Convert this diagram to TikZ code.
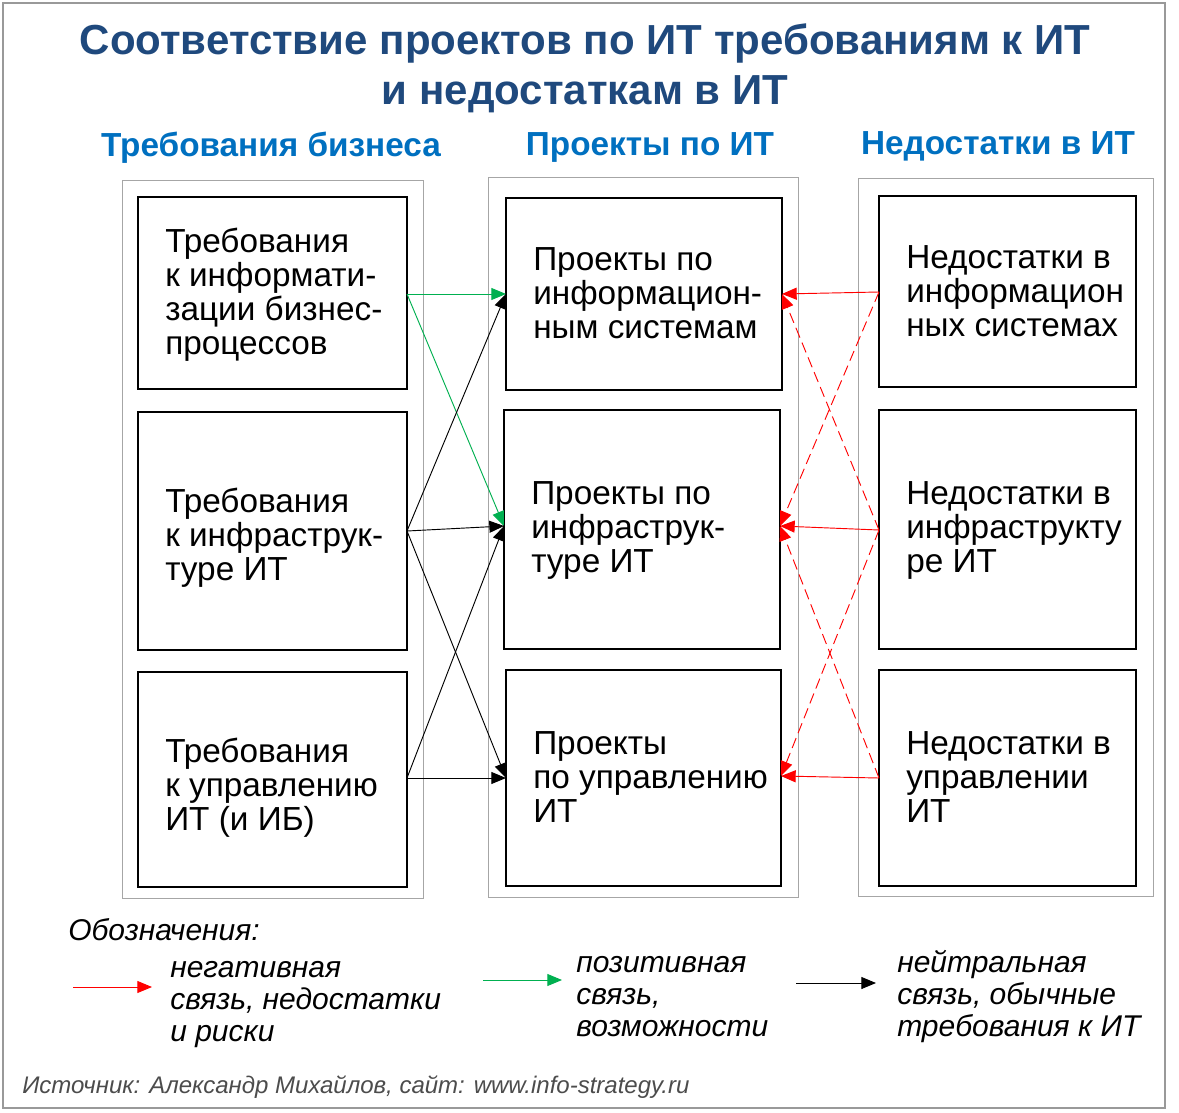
\documentclass[tikz,border=0pt]{standalone}
\usepackage{fontspec}
\setmainfont{Liberation Sans}
\usetikzlibrary{arrows.meta}
\definecolor{ttl}{RGB}{31,73,125}
\definecolor{hdr}{RGB}{0,112,192}
\definecolor{grn}{RGB}{0,176,80}
\begin{document}
\begin{tikzpicture}[x=0.75pt,y=-0.75pt,
 panel/.style={draw=gray!70,line width=0.5pt},
 box/.style={draw=black,line width=1.6pt},
 btxt/.style={anchor=base west,align=left,font=\fontsize{25}{25.5}\selectfont,inner sep=0pt},
 hd/.style={text=hdr,font=\fontsize{25}{28}\selectfont\bfseries},
 arr/.style={-{Triangle[length=11pt,width=9pt]},line width=0.7pt},
 ng/.style={arr,red},
 ngd/.style={arr,red,dashed,dash pattern=on 8pt off 4pt},
 ps/.style={arr,grn},
 nt/.style={arr,black},
 lg/.style={anchor=base west,align=left,font=\fontsize{22.5}{24}\selectfont\itshape,inner sep=0pt}]
\fill[white] (0,0) rectangle (1179,1113);
\draw[gray!80,line width=1.2pt] (3,3) rectangle (1165,1108);
\node[text=ttl,font=\fontsize{31.5}{37.5}\selectfont\bfseries,align=center] (title) at (585,68) {Соответствие проектов по ИТ требованиям к ИТ\\и недостаткам в ИТ};
\node[hd] (h1) at (271,148) {Требования бизнеса};
\node[hd] (h2) at (650,147) {Проекты по ИТ};
\node[hd] (h3) at (998,146) {Недостатки в ИТ};
\draw[panel] (122,180) rectangle (423,898);
\draw[panel] (488,177) rectangle (798,897);
\draw[panel] (858,178) rectangle (1153,896);
% boxes
\draw[box] (138,197) rectangle (407,389);
\draw[box] (138,412) rectangle (407,650);
\draw[box] (138,672) rectangle (407,887);
\draw[box] (506,198) rectangle (782,390);
\draw[box] (504,410) rectangle (780,649);
\draw[box] (506,670) rectangle (781,886);
\draw[box] (879,196) rectangle (1136,387);
\draw[box] (879,410) rectangle (1136,649);
\draw[box] (879,670) rectangle (1136,886);
\node[btxt] (l1) at (165,354) {Требования\\к информати-\\зации бизнес-\\процессов};
\node[btxt] (l2) at (165,580) {Требования\\к инфраструк-\\туре ИТ};
\node[btxt] (l3) at (165,830) {Требования\\к управлению\\ИТ (и ИБ)};
\node[btxt] (m1) at (533,338) {Проекты по\\информацион-\\ным системам};
\node[btxt] (m2) at (531,572) {Проекты по\\инфраструк-\\туре ИТ};
\node[btxt] (m3) at (533,822) {Проекты\\по управлению\\ИТ};
\node[btxt] (r1) at (906,336) {Недостатки в\\информацион\\ных системах};
\node[btxt] (r2) at (906,572) {Недостатки в\\инфраструкту\\ре ИТ};
\node[btxt] (r3) at (906,822) {Недостатки в\\управлении\\ИТ};
% anchor coordinates
\coordinate (L1) at (407,294); \coordinate (L2) at (407,531); \coordinate (L3) at (407,778);
\coordinate (M1) at (506,294); \coordinate (M2) at (504,526); \coordinate (M3) at (506,778);
\coordinate (M1r) at (782,294); \coordinate (M2r) at (780,526); \coordinate (M3r) at (781,776);
\coordinate (R1) at (879,292); \coordinate (R2) at (879,530); \coordinate (R3) at (879,778);
\draw[ps] (L1) -- (M1);
\draw[ps] (L1) -- (M2);
\draw[nt] (L2) -- (M1);
\draw[nt] (L2) -- (M2);
\draw[nt] (L2) -- (M3);
\draw[nt] (L3) -- (M2);
\draw[nt] (L3) -- (M3);
\draw[ng] (R1) -- (M1r);
\draw[ng] (R2) -- (M2r);
\draw[ng] (R3) -- (M3r);
\draw[ngd] (R1) -- (M2r);
\draw[ngd] (R2) -- (M1r);
\draw[ngd] (R2) -- (M3r);
\draw[ngd] (R3) -- (M2r);
% legend
\node[lg] (leg) at (68,940) {Обозначения:};
\coordinate (a1) at (73,987); \coordinate (a2) at (152,987);
\draw[ng] (a1) -- (a2);
\node[lg] (t1) at (170,1041) {негативная\\связь, недостатки\\и риски};
\coordinate (b1) at (483,980); \coordinate (b2) at (562,980);
\draw[ps] (b1) -- (b2);
\node[lg] (t2) at (576,1036) {позитивная\\связь,\\возможности};
\coordinate (c1) at (796,983); \coordinate (c2) at (876,983);
\draw[nt] (c1) -- (c2);
\node[lg] (t3) at (897,1036) {нейтральная\\связь, обычные\\требования к ИТ};
\node[anchor=base west,text=black!70,font=\fontsize{18}{20}\selectfont\itshape,inner sep=0pt] (src) at (22,1093) {Источник: Александр Михайлов, сайт: www.info-strategy.ru};
\end{tikzpicture}
\end{document}
